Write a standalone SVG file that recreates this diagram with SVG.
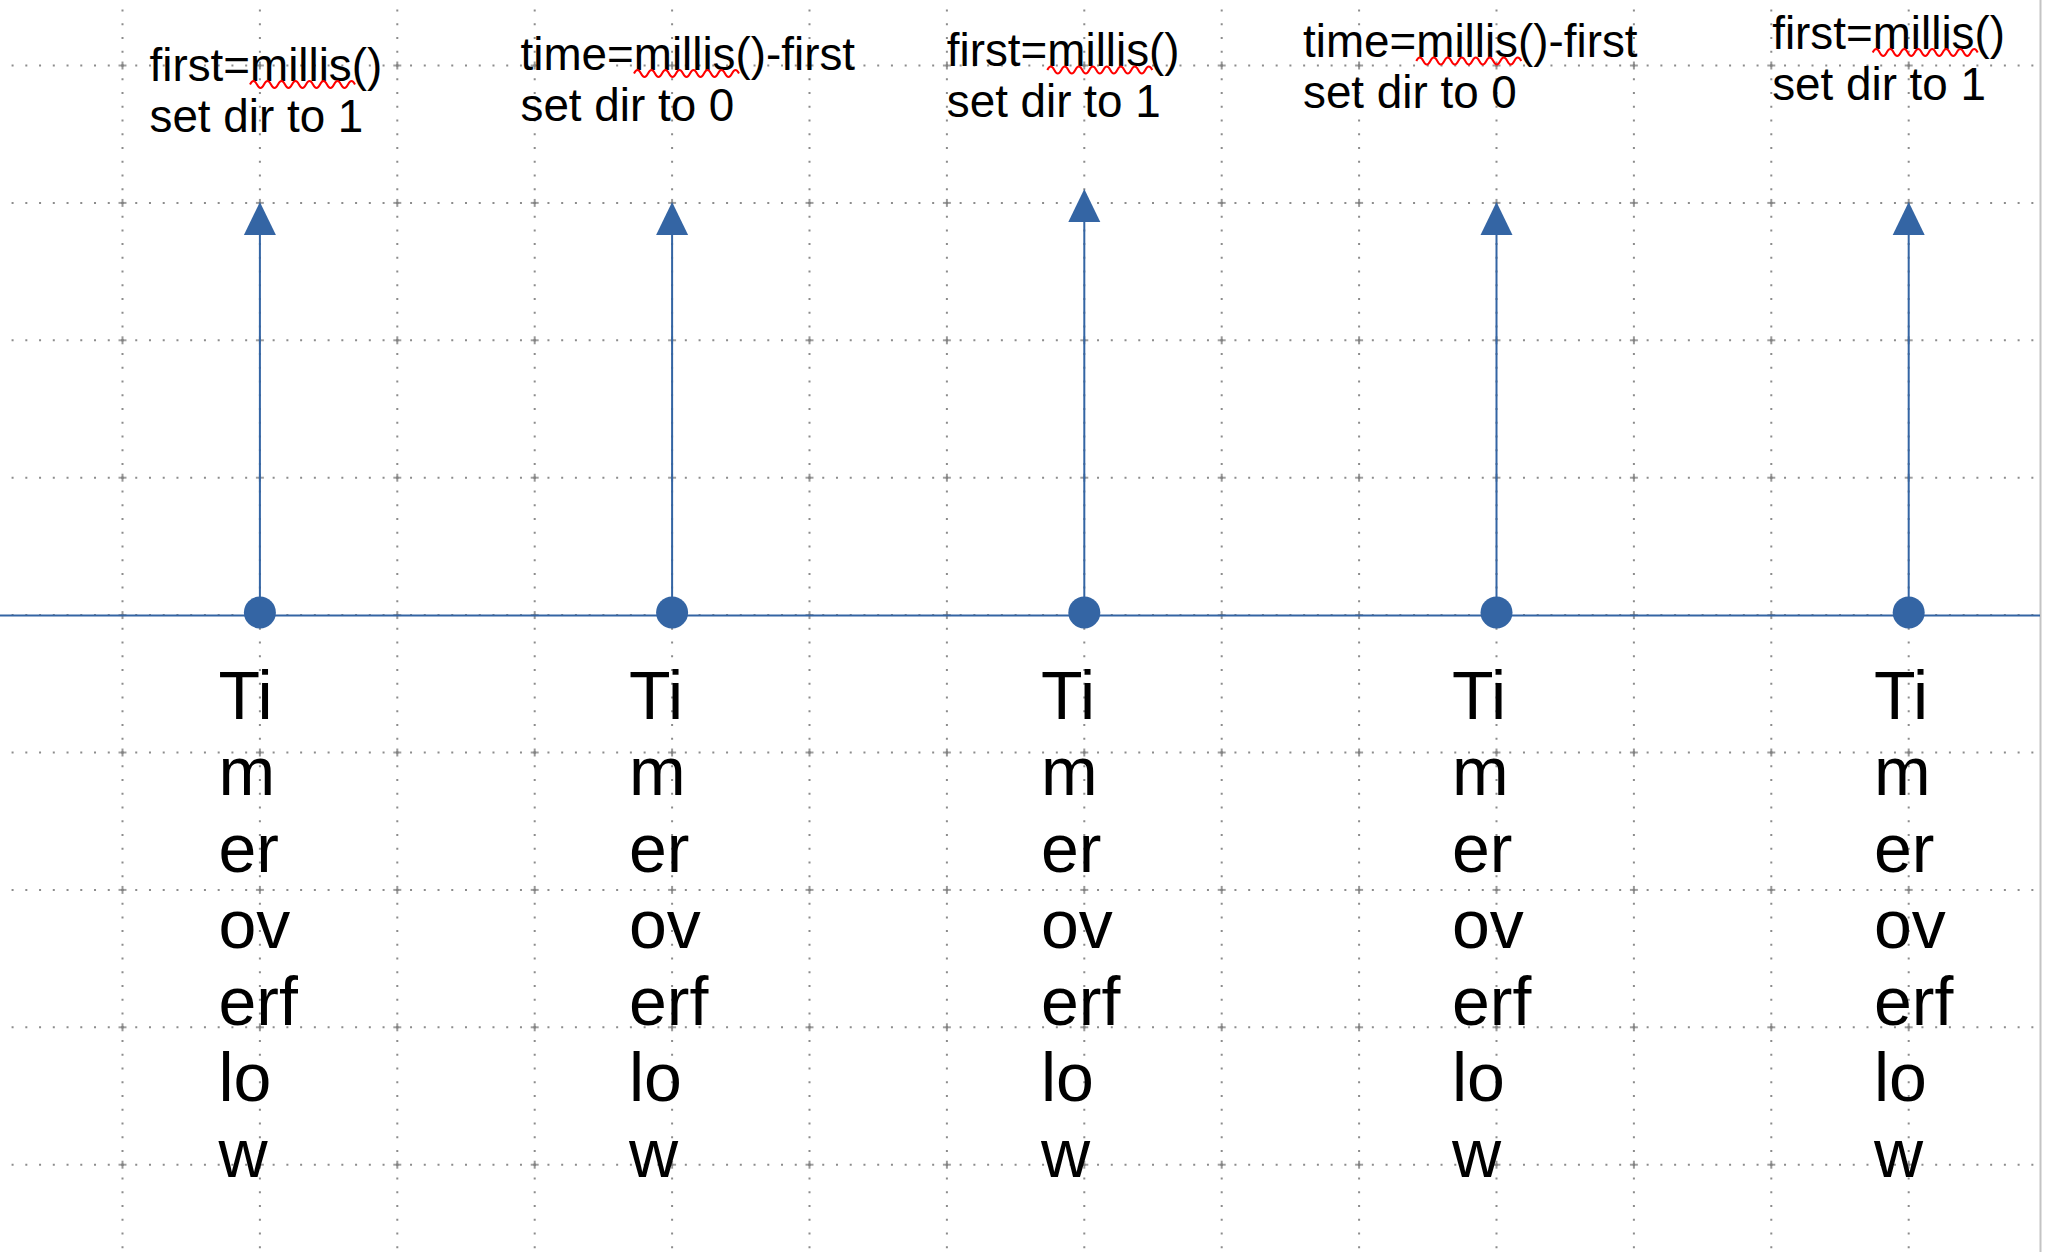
<svg xmlns="http://www.w3.org/2000/svg" xmlns:xlink="http://www.w3.org/1999/xlink" width="2048" height="1252" viewBox="0 0 2048 1252">
<style>
.gh{stroke:#8c8c8c;stroke-width:2;stroke-dasharray:2 11.74;fill:none}
.gv{stroke:#8c8c8c;stroke-width:2;stroke-dasharray:2 11.74;fill:none}
.blue{stroke:#3465a4;stroke-width:2;fill:none}
.dot{fill:#3465a4}
.top{font-family:"Liberation Sans",Arial,sans-serif;font-size:45.8px;fill:#000}
.bot{font-family:"Liberation Sans",Arial,sans-serif;font-size:68px;fill:#000}
.wave{stroke:#ff0000;stroke-width:2;fill:none}
</style>
<defs>
<pattern id="cross" patternUnits="userSpaceOnUse" x="53.8" y="-3.2" width="137.4" height="137.4">
<path d="M64.7 68.7H72.7M68.7 64.7V72.7" stroke="#808080" stroke-width="1.6" fill="none"/>
</pattern>
<marker id="arr" markerUnits="userSpaceOnUse" markerWidth="34" markerHeight="34" refX="0" refY="16" orient="auto" viewBox="0 0 34 32" overflow="visible">
<path d="M0 0L33 16L0 32Z" fill="#3465a4"/>
</marker>
<path id="wv" d="M0 0q3.5 -7 7 0t7 0t7 0t7 0t7 0t7 0t7 0t7 0t7 0t7 0t7 0t7 0t7 0t7 0t7 0"/>
</defs>
<rect x="0" y="0" width="2048" height="1252" fill="#ffffff"/>
<g id="grid">
<line class="gh" x1="11.58" y1="65.5" x2="2036" y2="65.5"/>
<line class="gh" x1="11.58" y1="202.9" x2="2036" y2="202.9"/>
<line class="gh" x1="11.58" y1="340.3" x2="2036" y2="340.3"/>
<line class="gh" x1="11.58" y1="477.7" x2="2036" y2="477.7"/>
<line class="gh" x1="11.58" y1="615.1" x2="2036" y2="615.1"/>
<line class="gh" x1="11.58" y1="752.5" x2="2036" y2="752.5"/>
<line class="gh" x1="11.58" y1="889.9" x2="2036" y2="889.9"/>
<line class="gh" x1="11.58" y1="1027.3" x2="2036" y2="1027.3"/>
<line class="gh" x1="11.58" y1="1164.7" x2="2036" y2="1164.7"/>
<line class="gv" x1="122.5" y1="9.54" x2="122.5" y2="1252"/>
<line class="gv" x1="259.9" y1="9.54" x2="259.9" y2="1252"/>
<line class="gv" x1="397.3" y1="9.54" x2="397.3" y2="1252"/>
<line class="gv" x1="534.7" y1="9.54" x2="534.7" y2="1252"/>
<line class="gv" x1="672.1" y1="9.54" x2="672.1" y2="1252"/>
<line class="gv" x1="809.5" y1="9.54" x2="809.5" y2="1252"/>
<line class="gv" x1="946.9" y1="9.54" x2="946.9" y2="1252"/>
<line class="gv" x1="1084.3" y1="9.54" x2="1084.3" y2="1252"/>
<line class="gv" x1="1221.7" y1="9.54" x2="1221.7" y2="1252"/>
<line class="gv" x1="1359.1" y1="9.54" x2="1359.1" y2="1252"/>
<line class="gv" x1="1496.5" y1="9.54" x2="1496.5" y2="1252"/>
<line class="gv" x1="1633.9" y1="9.54" x2="1633.9" y2="1252"/>
<line class="gv" x1="1771.3" y1="9.54" x2="1771.3" y2="1252"/>
<line class="gv" x1="1908.7" y1="9.54" x2="1908.7" y2="1252"/>
<rect x="0" y="0" width="2036" height="1252" fill="url(#cross)"/>
<line x1="2040.5" y1="0" x2="2040.5" y2="1252" stroke="#c4c4c4" stroke-width="2"/>
</g>
<g id="connectors">
<line class="blue" x1="0" y1="615.6" x2="2040" y2="615.6"/>
<line class="blue" x1="259.9" y1="612" x2="259.9" y2="235" marker-end="url(#arr)"/>
<line class="blue" x1="672.1" y1="612" x2="672.1" y2="235" marker-end="url(#arr)"/>
<line class="blue" x1="1084.3" y1="612" x2="1084.3" y2="222" marker-end="url(#arr)"/>
<line class="blue" x1="1496.5" y1="612" x2="1496.5" y2="235" marker-end="url(#arr)"/>
<line class="blue" x1="1908.7" y1="612" x2="1908.7" y2="235" marker-end="url(#arr)"/>
</g>
<g id="event1">
<circle class="dot" cx="259.9" cy="612.5" r="16"/>
<text class="top" x="149.5" y="80.5"><tspan x="149.5" y="80.5">first=millis()</tspan><tspan x="149.5" y="131.5">set dir to 1</tspan></text>
<use xlink:href="#wv" class="wave" x="250" y="84.5"/>
<text class="bot" x="218.5" y="719"><tspan x="218.5" y="719">Ti</tspan><tspan x="218.5" y="795.4">m</tspan><tspan x="218.5" y="871.8">er</tspan><tspan x="218.5" y="948.2">ov</tspan><tspan x="218.5" y="1024.6">erf</tspan><tspan x="218.5" y="1101">lo</tspan><tspan x="218.5" y="1177.4">w</tspan></text>
</g>
<g id="event2">
<circle class="dot" cx="672.1" cy="612.5" r="16"/>
<text class="top" x="520.5" y="69.5"><tspan x="520.5" y="69.5">time=millis()-first</tspan><tspan x="520.5" y="120.5">set dir to 0</tspan></text>
<use xlink:href="#wv" class="wave" x="634" y="73.5"/>
<text class="bot" x="629" y="719"><tspan x="629" y="719">Ti</tspan><tspan x="629" y="795.4">m</tspan><tspan x="629" y="871.8">er</tspan><tspan x="629" y="948.2">ov</tspan><tspan x="629" y="1024.6">erf</tspan><tspan x="629" y="1101">lo</tspan><tspan x="629" y="1177.4">w</tspan></text>
</g>
<g id="event3">
<circle class="dot" cx="1084.3" cy="612.5" r="16"/>
<text class="top" x="946.8" y="66"><tspan x="946.8" y="66">first=millis()</tspan><tspan x="946.8" y="117">set dir to 1</tspan></text>
<use xlink:href="#wv" class="wave" x="1047.3" y="70"/>
<text class="bot" x="1041" y="719"><tspan x="1041" y="719">Ti</tspan><tspan x="1041" y="795.4">m</tspan><tspan x="1041" y="871.8">er</tspan><tspan x="1041" y="948.2">ov</tspan><tspan x="1041" y="1024.6">erf</tspan><tspan x="1041" y="1101">lo</tspan><tspan x="1041" y="1177.4">w</tspan></text>
</g>
<g id="event4">
<circle class="dot" cx="1496.5" cy="612.5" r="16"/>
<text class="top" x="1303" y="57"><tspan x="1303" y="57">time=millis()-first</tspan><tspan x="1303" y="108">set dir to 0</tspan></text>
<use xlink:href="#wv" class="wave" x="1416.3" y="61"/>
<text class="bot" x="1452" y="719"><tspan x="1452" y="719">Ti</tspan><tspan x="1452" y="795.4">m</tspan><tspan x="1452" y="871.8">er</tspan><tspan x="1452" y="948.2">ov</tspan><tspan x="1452" y="1024.6">erf</tspan><tspan x="1452" y="1101">lo</tspan><tspan x="1452" y="1177.4">w</tspan></text>
</g>
<g id="event5">
<circle class="dot" cx="1908.7" cy="612.5" r="16"/>
<text class="top" x="1772.2" y="48.5"><tspan x="1772.2" y="48.5">first=millis()</tspan><tspan x="1772.2" y="99.5">set dir to 1</tspan></text>
<use xlink:href="#wv" class="wave" x="1872.7" y="52.5"/>
<text class="bot" x="1874" y="719"><tspan x="1874" y="719">Ti</tspan><tspan x="1874" y="795.4">m</tspan><tspan x="1874" y="871.8">er</tspan><tspan x="1874" y="948.2">ov</tspan><tspan x="1874" y="1024.6">erf</tspan><tspan x="1874" y="1101">lo</tspan><tspan x="1874" y="1177.4">w</tspan></text>
</g>
</svg>
